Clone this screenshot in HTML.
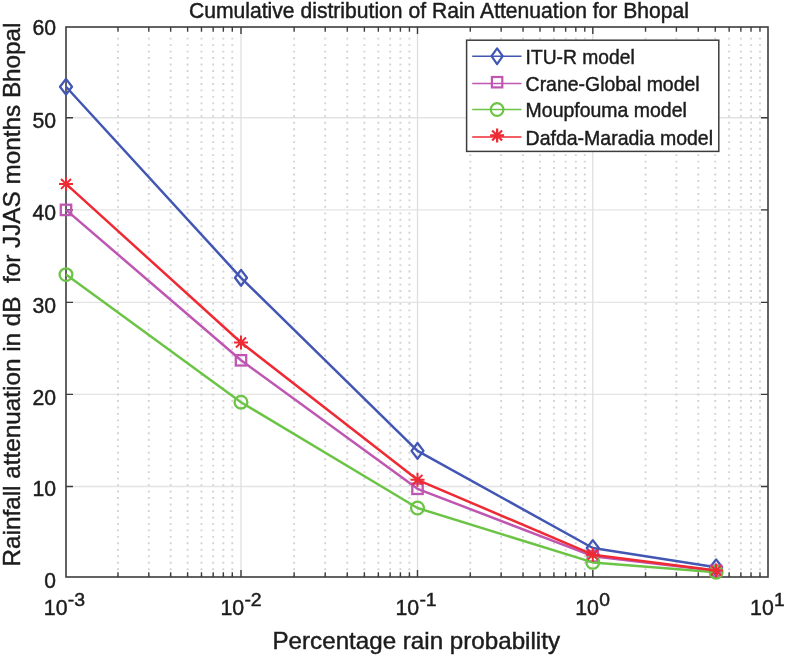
<!DOCTYPE html>
<html><head><meta charset="utf-8"><title>Cumulative distribution of Rain Attenuation for Bhopal</title>
<style>html,body{margin:0;padding:0;background:#fff}svg text{white-space:pre;stroke:#1c1c1c;stroke-width:.45px}</style></head>
<body>
<svg width="785" height="657" viewBox="0 0 785 657" style="display:block;font-family:'Liberation Sans',sans-serif">
<rect width="785" height="657" fill="#fff"/>
<path d="M66.0 486.5H768.0M66.0 394.4H768.0M66.0 302.4H768.0M66.0 209.9H768.0M66.0 117.7H768.0" stroke="#e3e3e3" stroke-width="1.4" fill="none"/>
<path d="M241.0 27.0V577.0M417.5 27.0V577.0M592.8 27.0V577.0" stroke="#dfdfdf" stroke-width="1.3" fill="none"/>
<path d="M117.98 37.7V577.0M148.80 37.7V577.0M170.66 37.7V577.0M187.62 37.7V577.0M201.48 37.7V577.0M213.19 37.7V577.0M223.34 37.7V577.0M232.29 37.7V577.0M294.13 37.7V577.0M325.21 37.7V577.0M347.26 37.7V577.0M364.37 37.7V577.0M378.34 37.7V577.0M390.16 37.7V577.0M400.40 37.7V577.0M409.42 37.7V577.0M470.27 37.7V577.0M501.14 37.7V577.0M523.04 37.7V577.0M540.03 37.7V577.0M553.91 37.7V577.0M565.65 37.7V577.0M575.81 37.7V577.0M584.78 37.7V577.0M645.54 37.7V577.0M676.39 37.7V577.0M698.28 37.7V577.0M715.26 37.7V577.0M729.13 37.7V577.0M740.86 37.7V577.0M751.02 37.7V577.0M759.98 37.7V577.0" stroke="#d3d3d3" stroke-width="1.9" stroke-dasharray="1.9 4.57" fill="none"/>
<path d="M66.0 486.5h7M768.0 486.5h-7M66.0 394.4h7M768.0 394.4h-7M66.0 302.4h7M768.0 302.4h-7M66.0 209.9h7M768.0 209.9h-7M66.0 117.7h7M768.0 117.7h-7M241.0 27.0v7M241.0 577.0v-7M417.5 27.0v7M417.5 577.0v-7M592.8 27.0v7M592.8 577.0v-7M117.98 27.0v4.7M117.98 577.0v-4.7M148.80 27.0v4.7M148.80 577.0v-4.7M170.66 27.0v4.7M170.66 577.0v-4.7M187.62 27.0v4.7M187.62 577.0v-4.7M201.48 27.0v4.7M201.48 577.0v-4.7M213.19 27.0v4.7M213.19 577.0v-4.7M223.34 27.0v4.7M223.34 577.0v-4.7M232.29 27.0v4.7M232.29 577.0v-4.7M294.13 27.0v4.7M294.13 577.0v-4.7M325.21 27.0v4.7M325.21 577.0v-4.7M347.26 27.0v4.7M347.26 577.0v-4.7M364.37 27.0v4.7M364.37 577.0v-4.7M378.34 27.0v4.7M378.34 577.0v-4.7M390.16 27.0v4.7M390.16 577.0v-4.7M400.40 27.0v4.7M400.40 577.0v-4.7M409.42 27.0v4.7M409.42 577.0v-4.7M470.27 27.0v4.7M470.27 577.0v-4.7M501.14 27.0v4.7M501.14 577.0v-4.7M523.04 27.0v4.7M523.04 577.0v-4.7M540.03 27.0v4.7M540.03 577.0v-4.7M553.91 27.0v4.7M553.91 577.0v-4.7M565.65 27.0v4.7M565.65 577.0v-4.7M575.81 27.0v4.7M575.81 577.0v-4.7M584.78 27.0v4.7M584.78 577.0v-4.7M645.54 27.0v4.7M645.54 577.0v-4.7M676.39 27.0v4.7M676.39 577.0v-4.7M698.28 27.0v4.7M698.28 577.0v-4.7M715.26 27.0v4.7M715.26 577.0v-4.7M729.13 27.0v4.7M729.13 577.0v-4.7M740.86 27.0v4.7M740.86 577.0v-4.7M751.02 27.0v4.7M751.02 577.0v-4.7M759.98 27.0v4.7M759.98 577.0v-4.7" stroke="#3c3c3c" stroke-width="1.4" fill="none"/>
<rect x="66.0" y="27.0" width="702.0" height="550.0" fill="none" stroke="#3c3c3c" stroke-width="1.6"/>
<polyline points="66,86.75 241,277.8 417.5,450.9 592.8,548 716.1,567.3" fill="none" stroke="#4256b4" stroke-width="2.5" stroke-linejoin="round"/>
<path d="M66.00 78.85L72.00 86.75L66.00 94.65L60.00 86.75Z" fill="none" stroke="#4256b4" stroke-width="2.3" stroke-linejoin="round"/>
<path d="M241.00 269.90L247.00 277.80L241.00 285.70L235.00 277.80Z" fill="none" stroke="#4256b4" stroke-width="2.3" stroke-linejoin="round"/>
<path d="M417.50 443.00L423.50 450.90L417.50 458.80L411.50 450.90Z" fill="none" stroke="#4256b4" stroke-width="2.3" stroke-linejoin="round"/>
<path d="M592.80 540.10L598.80 548.00L592.80 555.90L586.80 548.00Z" fill="none" stroke="#4256b4" stroke-width="2.3" stroke-linejoin="round"/>
<path d="M716.10 559.40L722.10 567.30L716.10 575.20L710.10 567.30Z" fill="none" stroke="#4256b4" stroke-width="2.3" stroke-linejoin="round"/>
<polyline points="66,209.9 241,360.3 417.5,488.8 592.8,556.2 716.1,570.7" fill="none" stroke="#be56b2" stroke-width="2.5" stroke-linejoin="round"/>
<rect x="60.80" y="204.70" width="10.4" height="10.4" fill="none" stroke="#be56b2" stroke-width="2.3"/>
<rect x="235.80" y="355.10" width="10.4" height="10.4" fill="none" stroke="#be56b2" stroke-width="2.3"/>
<rect x="412.30" y="483.60" width="10.4" height="10.4" fill="none" stroke="#be56b2" stroke-width="2.3"/>
<rect x="587.60" y="551.00" width="10.4" height="10.4" fill="none" stroke="#be56b2" stroke-width="2.3"/>
<rect x="710.90" y="565.50" width="10.4" height="10.4" fill="none" stroke="#be56b2" stroke-width="2.3"/>
<polyline points="66,274.6 241,402.2 417.5,508 592.8,562.4 716.1,572.2" fill="none" stroke="#6cc446" stroke-width="2.5" stroke-linejoin="round"/>
<ellipse cx="66.00" cy="274.60" rx="6.4" ry="6.3" fill="none" stroke="#6cc446" stroke-width="2.3"/>
<ellipse cx="241.00" cy="402.20" rx="6.4" ry="6.3" fill="none" stroke="#6cc446" stroke-width="2.3"/>
<ellipse cx="417.50" cy="508.00" rx="6.4" ry="6.3" fill="none" stroke="#6cc446" stroke-width="2.3"/>
<ellipse cx="592.80" cy="562.40" rx="6.4" ry="6.3" fill="none" stroke="#6cc446" stroke-width="2.3"/>
<ellipse cx="716.10" cy="572.20" rx="6.4" ry="6.3" fill="none" stroke="#6cc446" stroke-width="2.3"/>
<polyline points="66,183.9 241,342.5 417.5,479.8 592.8,554.7 716.1,570.6" fill="none" stroke="#ee2a34" stroke-width="2.5" stroke-linejoin="round"/>
<path d="M59.00 183.90h14.0M66.00 176.90v14.0M61.05 178.95l9.90 9.90M61.05 188.85l9.90 -9.90" fill="none" stroke="#ee2a34" stroke-width="2"/>
<path d="M234.00 342.50h14.0M241.00 335.50v14.0M236.05 337.55l9.90 9.90M236.05 347.45l9.90 -9.90" fill="none" stroke="#ee2a34" stroke-width="2"/>
<path d="M410.50 479.80h14.0M417.50 472.80v14.0M412.55 474.85l9.90 9.90M412.55 484.75l9.90 -9.90" fill="none" stroke="#ee2a34" stroke-width="2"/>
<path d="M585.80 554.70h14.0M592.80 547.70v14.0M587.85 549.75l9.90 9.90M587.85 559.65l9.90 -9.90" fill="none" stroke="#ee2a34" stroke-width="2"/>
<path d="M709.10 570.60h14.0M716.10 563.60v14.0M711.15 565.65l9.90 9.90M711.15 575.55l9.90 -9.90" fill="none" stroke="#ee2a34" stroke-width="2"/>
<rect x="466.6" y="40.2" width="252.2" height="111.2" fill="#fff" stroke="#3c3c3c" stroke-width="1.5"/>
<path d="M472.2 56.2H521.5" stroke="#4256b4" stroke-width="1.5"/>
<path d="M497.10 48.30L502.70 56.20L497.10 64.10L491.50 56.20Z" fill="none" stroke="#4256b4" stroke-width="2.2" stroke-linejoin="round"/>
<text x="525.6" y="63.6" font-size="20.2" fill="#1c1c1c" textLength="109.1" lengthAdjust="spacingAndGlyphs">ITU-R model</text>
<path d="M472.2 83.6H521.5" stroke="#be56b2" stroke-width="1.5"/>
<rect x="491.90" y="77.00" width="10.4" height="10.4" fill="none" stroke="#be56b2" stroke-width="2.2"/>
<text x="525.6" y="91.0" font-size="20.2" fill="#1c1c1c" textLength="174.0" lengthAdjust="spacingAndGlyphs">Crane-Global model</text>
<path d="M472.2 109.5H521.5" stroke="#6cc446" stroke-width="1.5"/>
<ellipse cx="497.10" cy="109.50" rx="6.3" ry="6.3" fill="none" stroke="#6cc446" stroke-width="2.2"/>
<text x="525.6" y="116.9" font-size="20.2" fill="#1c1c1c" textLength="161.2" lengthAdjust="spacingAndGlyphs">Moupfouma model</text>
<path d="M472.2 137.0H521.5" stroke="#ee2a34" stroke-width="1.5"/>
<path d="M490.10 135.50h14.0M497.10 128.50v14.0M492.15 130.55l9.90 9.90M492.15 140.45l9.90 -9.90" fill="none" stroke="#ee2a34" stroke-width="2.3"/>
<text x="525.6" y="145.0" font-size="20.2" fill="#1c1c1c" textLength="187.4" lengthAdjust="spacingAndGlyphs">Dafda-Maradia model</text>
<text x="56" y="588.30" font-size="22" fill="#1c1c1c" text-anchor="end" textLength="11.7" lengthAdjust="spacingAndGlyphs">0</text>
<text x="56" y="495.80" font-size="22" fill="#1c1c1c" text-anchor="end" textLength="23.6" lengthAdjust="spacingAndGlyphs">10</text>
<text x="56" y="404.50" font-size="22" fill="#1c1c1c" text-anchor="end" textLength="23.6" lengthAdjust="spacingAndGlyphs">20</text>
<text x="56" y="312.60" font-size="22" fill="#1c1c1c" text-anchor="end" textLength="23.6" lengthAdjust="spacingAndGlyphs">30</text>
<text x="56" y="219.70" font-size="22" fill="#1c1c1c" text-anchor="end" textLength="23.6" lengthAdjust="spacingAndGlyphs">40</text>
<text x="56" y="128.30" font-size="22" fill="#1c1c1c" text-anchor="end" textLength="23.6" lengthAdjust="spacingAndGlyphs">50</text>
<text x="56" y="35.30" font-size="22" fill="#1c1c1c" text-anchor="end" textLength="23.6" lengthAdjust="spacingAndGlyphs">60</text>
<text x="43.80" y="615.4" font-size="21.8" fill="#1c1c1c" textLength="23.7" lengthAdjust="spacingAndGlyphs">10</text><text x="67.80" y="606.1" font-size="17.5" fill="#1c1c1c" textLength="17.3" lengthAdjust="spacingAndGlyphs">-3</text>
<text x="220.40" y="615.4" font-size="21.8" fill="#1c1c1c" textLength="23.7" lengthAdjust="spacingAndGlyphs">10</text><text x="244.40" y="606.1" font-size="17.5" fill="#1c1c1c" textLength="17.3" lengthAdjust="spacingAndGlyphs">-2</text>
<text x="395.40" y="615.4" font-size="21.8" fill="#1c1c1c" textLength="23.7" lengthAdjust="spacingAndGlyphs">10</text><text x="419.40" y="606.1" font-size="17.5" fill="#1c1c1c" textLength="17.3" lengthAdjust="spacingAndGlyphs">-1</text>
<text x="575.20" y="615.4" font-size="21.8" fill="#1c1c1c" textLength="23.7" lengthAdjust="spacingAndGlyphs">10</text><text x="599.20" y="606.1" font-size="17.5" fill="#1c1c1c" textLength="10.7" lengthAdjust="spacingAndGlyphs">0</text>
<text x="750.10" y="615.4" font-size="21.8" fill="#1c1c1c" textLength="23.7" lengthAdjust="spacingAndGlyphs">10</text><text x="774.10" y="606.1" font-size="17.5" fill="#1c1c1c" textLength="10.7" lengthAdjust="spacingAndGlyphs">1</text>
<text x="189" y="17.5" font-size="21.3" fill="#1c1c1c" textLength="500" lengthAdjust="spacingAndGlyphs">Cumulative distribution of Rain Attenuation for Bhopal</text>
<text x="272.5" y="649" font-size="24" fill="#1c1c1c" textLength="287.5" lengthAdjust="spacingAndGlyphs">Percentage rain probability</text>
<text transform="translate(20.3 566.5) rotate(-90)" font-size="24" fill="#1c1c1c" textLength="544" lengthAdjust="spacingAndGlyphs">Rainfall attenuation in dB  for JJAS months Bhopal</text>
</svg>
</body></html>
